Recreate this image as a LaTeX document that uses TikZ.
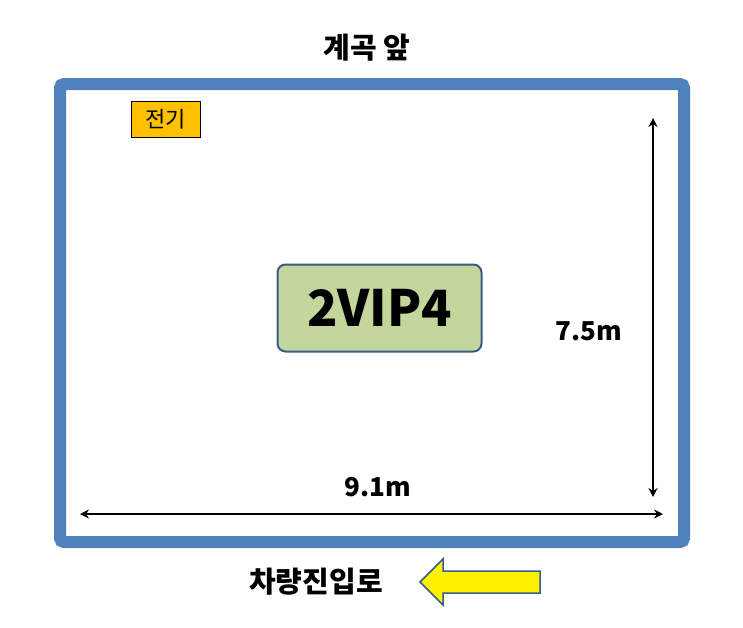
\documentclass[tikz,border=0pt]{standalone}
\usepackage{fontspec}
\usetikzlibrary{arrows.meta}
\setmainfont{Noto Sans CJK KR}
\tikzset{
  frame/.style={draw=framecol, line width=12pt, rounded corners=4pt},
  dimline/.style={{Stealth[length=9pt,width=9pt,inset=3pt]}-{Stealth[length=9pt,width=9pt,inset=3pt]}, line width=2pt},
  dimtext/.style={font=\fontsize{26}{30}\selectfont\bfseries},
  biglabel/.style={font=\fontsize{29}{34}\selectfont\bfseries},
}
\definecolor{framecol}{RGB}{79,129,189}
\definecolor{edgecol}{RGB}{56,93,138}
\definecolor{boxgreen}{RGB}{195,214,155}
\definecolor{elecorange}{RGB}{255,192,0}
\begin{document}
\begin{tikzpicture}[x=1pt, y=-1pt]
  \useasboundingbox (0,0) rectangle (743,627);
  % site border
  \draw[frame] (60,84) rectangle (684,542);
  \node[biglabel] (front) at (367,48) {계곡 앞};
  \node[draw, fill=elecorange, line width=0.8pt, minimum width=69pt, minimum height=36pt,
        inner sep=0pt, font=\fontsize{22}{24}\selectfont] (elec) at (165.5,119) {전기};
  \node[draw=edgecol, fill=boxgreen, line width=2pt, rounded corners=8pt,
        minimum width=204pt, minimum height=87pt, font=\fontsize{50}{56}\selectfont\bfseries]
        (unit) at (379.5,308) {2VIP4};
  % dimensions
  \coordinate (vtop) at (653,118);
  \coordinate (vbot) at (653,497);
  \draw[dimline] (vtop) -- (vbot);
  \node[dimtext] (height) at (589,331) {7.5m};
  \coordinate (hleft) at (80,514);
  \coordinate (hright) at (663,514);
  \draw[dimline] (hleft) -- (hright);
  \node[dimtext] (width) at (378,487) {9.1m};
  % entrance
  \node[biglabel] (entry) at (316,582) {차량진입로};
  \draw[draw=edgecol, fill=yellow, line width=1.5pt]
    (420,582) -- (443,559) -- (443,571) -- (540,571) -- (540,593) -- (443,593) -- (443,605) -- cycle;
\end{tikzpicture}
\end{document}
